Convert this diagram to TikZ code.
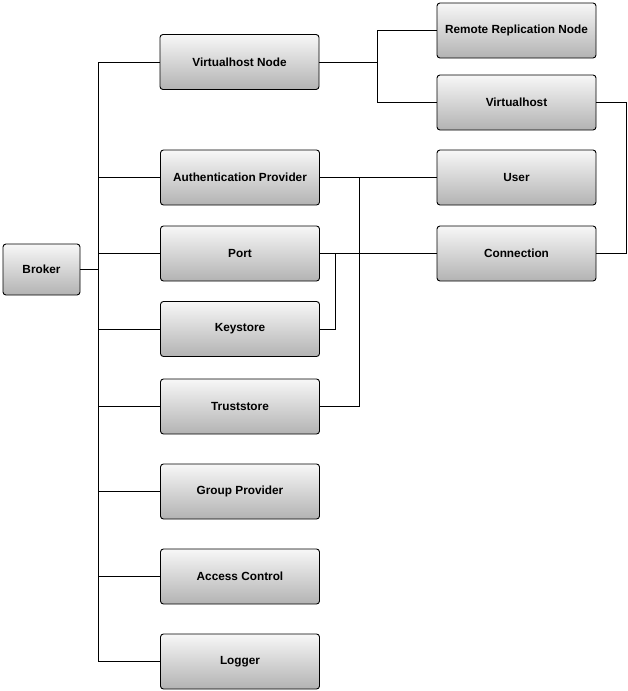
\documentclass[tikz,border=0pt]{standalone}
\usepackage{fontspec}
\setmainfont{Liberation Sans}
\usetikzlibrary{positioning}

\begin{document}
\begin{tikzpicture}[x=1pt,y=-1pt,line width=0.9pt,
    box/.style={draw,rounded corners=3pt,top color=gray!6,bottom color=gray!60,
        minimum width=159pt,minimum height=55pt,inner sep=0pt,
        font=\bfseries\fontsize{11.8}{13}\selectfont}]

    \useasboundingbox[fill=white] (0,0) rectangle (628,691);

    % left column
    \node[box,minimum width=77pt,minimum height=51pt] (broker) at (41.5,269.5) {Broker};
    \node[box] (vhn) at (239.5,62) {Virtualhost Node};
    \node[box] (auth) at (240,177.5) {Authentication Provider};
    \node[box] (port) at (240,253.5) {Port};
    \node[box] (keystore) at (240,329) {Keystore};
    \node[box] (truststore) at (240,406.5) {Truststore};
    \node[box] (group) at (240,491.5) {Group Provider};
    \node[box] (access) at (240,576.5) {Access Control};
    \node[box] (logger) at (240,661.5) {Logger};

    % right column
    \node[box] (rrn) at (516.5,30.5) {Remote Replication Node};
    \node[box] (vh) at (516.5,102.5) {Virtualhost};
    \node[box] (user) at (516.5,177.5) {User};
    \node[box] (conn) at (516.5,253.5) {Connection};

    \coordinate (bus) at (98.5,0);
    \coordinate (fork) at (377,0);
    \coordinate (ksx) at (335.5,0);
    \coordinate (tsx) at (359,0);
    \coordinate (loop) at (626,0);

    \foreach \n in {vhn,auth,port,keystore,truststore,group,access,logger}
        \draw (broker.east) -- (broker.east -| bus) |- (\n.west);

    \draw (vhn.east) -- (vhn.east -| fork) |- (rrn.west);
    \draw (vhn.east) -- (vhn.east -| fork) |- (vh.west);
    \draw (vh.east) -- (vh.east -| loop) |- (conn.east);
    \draw (auth.east) -- (user.west);
    \draw (port.east) -- (conn.west);
    \draw (keystore.east) -- (keystore.east -| ksx) -- (port.east -| ksx);
    \draw (truststore.east) -- (truststore.east -| tsx) -- (auth.east -| tsx);
\end{tikzpicture}
\end{document}
